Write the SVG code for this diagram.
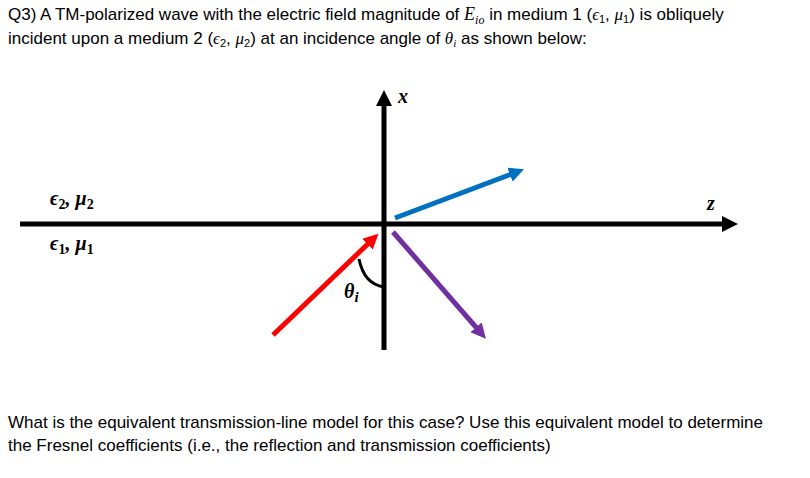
<svg xmlns="http://www.w3.org/2000/svg" width="810" height="478" viewBox="0 0 810 478">
<style>
.t{font-family:"Liberation Sans",Arial,sans-serif;font-size:17px;fill:#000}
.m{font-family:"Liberation Serif","DejaVu Serif",serif;font-style:italic;fill:#000}
.b{font-weight:bold;font-size:20px}
</style>
<defs>
<marker id="ak" viewBox="0 0 10 10" refX="5" refY="5" markerWidth="3.2" markerHeight="3.2" orient="auto"><path d="M0,0L10,5L0,10z" fill="#000"/></marker>
<marker id="ar" viewBox="0 0 10 10" refX="5" refY="5" markerWidth="3" markerHeight="3" orient="auto"><path d="M0,0L10,5L0,10z" fill="#ff0000"/></marker>
<marker id="ab" viewBox="0 0 10 10" refX="5" refY="5" markerWidth="3" markerHeight="3" orient="auto"><path d="M0,0L10,5L0,10z" fill="#0070c0"/></marker>
<marker id="ap" viewBox="0 0 10 10" refX="5" refY="5" markerWidth="3" markerHeight="3" orient="auto"><path d="M0,0L10,5L0,10z" fill="#7030a0"/></marker>
</defs>
<rect width="810" height="478" fill="#fff"/>
<text class="t" x="8" y="20">Q3) A TM-polarized wave with the electric field magnitude of <tspan class="m" font-size="18">E</tspan><tspan class="m" font-size="12" dy="4">io</tspan><tspan dy="-4"> in medium 1 (</tspan><tspan class="m">ϵ</tspan><tspan font-size="11" dy="3">1</tspan><tspan dy="-3">, </tspan><tspan class="m">μ</tspan><tspan font-size="11" dy="3">1</tspan><tspan dy="-3">) is obliquely</tspan></text>
<text class="t" x="8" y="44">incident upon a medium 2 (<tspan class="m">ϵ</tspan><tspan font-size="11" dy="3">2</tspan><tspan dy="-3">, </tspan><tspan class="m">μ</tspan><tspan font-size="11" dy="3">2</tspan><tspan dy="-3">) at an incidence angle of </tspan><tspan class="m">θ</tspan><tspan class="m" font-size="11" dy="3">i</tspan><tspan dy="-3"> as shown below:</tspan></text>
<g id="connectors" fill="none" stroke-width="5">
<line x1="20" y1="224" x2="730" y2="224" stroke="#000" marker-end="url(#ak)"/>
<line x1="384" y1="350" x2="384" y2="98" stroke="#000" marker-end="url(#ak)"/>
<line x1="273" y1="335" x2="373" y2="239" stroke="#ff0000" marker-end="url(#ar)"/>
<line x1="395" y1="218" x2="517" y2="172" stroke="#0070c0" marker-end="url(#ab)"/>
<line x1="393" y1="232" x2="481" y2="333" stroke="#7030a0" marker-end="url(#ap)"/>
<path d="M359,259 Q364,284 384,287" stroke="#000" stroke-width="3"/>
</g>
<g id="labels">
<text class="m b" x="398" y="103">x</text>
<text class="m b" x="707" y="210">z</text>
<text class="m b" x="50" y="205">ϵ<tspan font-size="14" dy="4" font-style="normal">2</tspan><tspan dy="-4">, μ</tspan><tspan font-size="14" dy="4" font-style="normal">2</tspan></text>
<text class="m b" x="50" y="250">ϵ<tspan font-size="14" dy="4" font-style="normal">1</tspan><tspan dy="-4">, μ</tspan><tspan font-size="14" dy="4" font-style="normal">1</tspan></text>
<text class="m b" x="344" y="298">θ<tspan font-size="15" dy="4">i</tspan></text>
</g>
<text class="t" x="8" y="428">What is the equivalent transmission-line model for this case? Use this equivalent model to determine</text>
<text class="t" x="8" y="451">the Fresnel coefficients (i.e., the reflection and transmission coefficients)</text>
</svg>
